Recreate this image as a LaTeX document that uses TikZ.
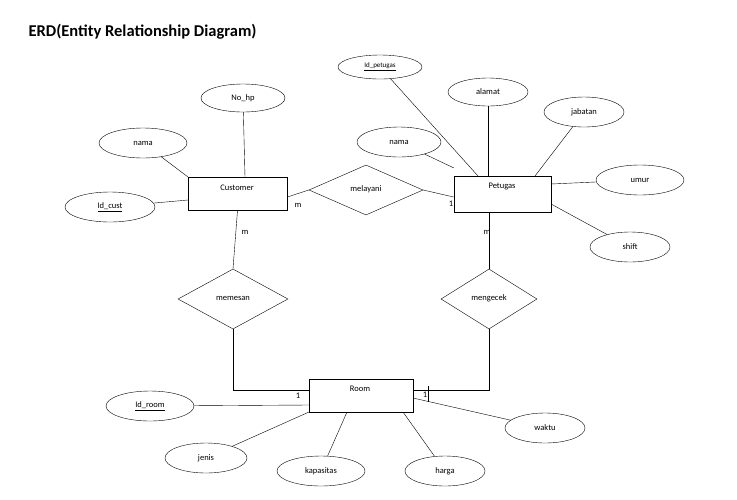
\documentclass[tikz,border=0pt]{standalone}
\usepackage{fontspec}
\setmainfont{Carlito}
\usetikzlibrary{shapes.geometric}
\begin{document}
\begin{tikzpicture}[x=1pt,y=-1pt,
 ent/.style={draw,thick,minimum width=#1,minimum height=33pt,inner sep=0pt},
 every node/.append style={font=\fontsize{8.5}{10}\selectfont}]
\useasboundingbox (0,0) rectangle (737,499);
\node[font=\bfseries\fontsize{16.5}{19}\selectfont,anchor=west] (title) at (25,32) {ERD(Entity Relationship Diagram)};
\node[ent=99pt,minimum height=33pt] (cus) at (237.5,193.5) {};
\node at (237,188) {Customer};
\node[ent=97pt,minimum height=36pt] (pet) at (502.5,194) {};
\node at (502,186) {Petugas};
\node[ent=104pt,minimum height=33pt] (room) at (361,395.5) {};
\node at (360,389) {Room};
\node[draw,diamond,minimum width=114pt,minimum height=50pt,inner sep=0pt] (mel) at (366,190) {};
\node at (366,189) {melayani};
\node[draw,diamond,minimum width=110pt,minimum height=60pt,inner sep=0pt] (mem) at (233,299) {};
\node at (233,298) {memesan};
\node[draw,diamond,minimum width=96pt,minimum height=60pt,inner sep=0pt] (mng) at (489,299) {};
\node at (489,298) {mengecek};
\coordinate (petb) at (489,212);
\tikzset{a/.style n args={2}{draw,ellipse,minimum width=#1,minimum height=#2,inner sep=0pt}}
\node[a={84pt}{24pt},font=\fontsize{7}{8}\selectfont] (idp) at (380,67) {\underline{Id\_petugas}};
\node[a={84pt}{28pt}] (nohp) at (243,98) {No\_hp};
\node[a={80pt}{28pt}] (alm) at (488,92) {alamat};
\node[a={80pt}{30pt}] (jab) at (584,112) {jabatan};
\node[a={88pt}{30pt}] (nama1) at (143,143) {nama};
\node[a={84pt}{30pt}] (nama2) at (399,142) {nama};
\node[a={90pt}{30pt}] (idc) at (110,207) {\underline{Id\_cust}};
\node[a={88pt}{30pt}] (umur) at (640,180) {umur};
\node[a={80pt}{30pt}] (shift) at (630,247) {shift};
\node[a={88pt}{30pt}] (idr) at (150,406) {\underline{Id\_room}};
\node[a={80pt}{30pt}] (wkt) at (545,428) {waktu};
\node[a={82pt}{30pt}] (jen) at (206,458) {jenis};
\node[a={88pt}{30pt}] (kap) at (321,471) {kapasitas};
\node[a={80pt}{30pt}] (hrg) at (445,471) {harga};
% relationships
\draw (cus.east |- 0,197) -- (mel.west);
\draw (mel.east) -- (pet.west |- 0,197);
\node at (298,205) {m};
\node at (451,204) {1};
\draw (cus.south) -- (mem.north);
\node at (245,232) {m};
\draw (mem.south) |- (room.west |- 0,390);
\node at (298,396) {1};
\draw (petb) -- (mng.north);
\node at (487,232) {m};
\draw (mng.south) |- (room.east |- 0,390);
\node at (425,395) {1};
\draw (428,386) -- (428,402);
% attributes
\draw (idp) -- (478,176);
\draw (alm) -- (488,176);
\draw (jab) -- (535,176);
\draw (nama2) -- (454,168);
\draw (umur) -- (551,184);
\draw (shift) -- (551,204);
\draw (nohp) -- (245,177);
\draw (nama1) -- (188,177);
\draw (idc) -- (188,200);
\draw (idr) -- (309,405);
\draw (jen) -- (309,412);
\draw (kap) -- (347,412);
\draw (hrg) -- (403,412);
\draw (wkt) -- (413,398);
\end{tikzpicture}
\end{document}
